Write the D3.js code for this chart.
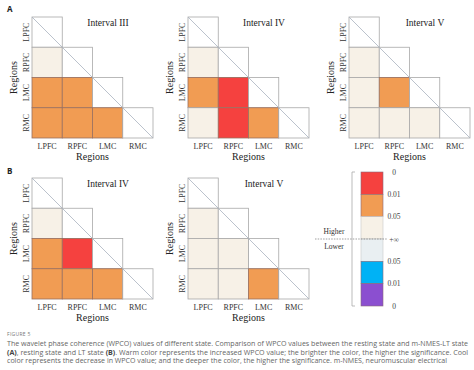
<!DOCTYPE html>
<html lang="en">
<head>
<meta charset="utf-8">
<script src="https://d3js.org/d3.v7.min.js"></script>
<style>
  body { margin: 0; background: #fff; }
</style>
</head>
<body>
<script>
    var w = 474;
    var h = 370;

    var regions = ['LPFC', 'RPFC', 'LMC', 'RMC'];

    // significance level of each cell, lower triangle row by row
    // 3 = p<0.01 higher, 2 = p<0.05 higher, 1 = higher n.s., 0 = diagonal
    var intervalIII_A = [[0], [1, 0], [2, 2, 0], [2, 2, 2, 0]];
    var intervalIV_A  = [[0], [1, 0], [2, 3, 0], [1, 3, 2, 0]];
    var intervalV_A   = [[0], [1, 0], [1, 2, 0], [1, 1, 1, 0]];
    var intervalIV_B  = [[0], [1, 0], [2, 3, 0], [2, 2, 2, 0]];
    var intervalV_B   = [[0], [1, 0], [1, 1, 0], [1, 1, 2, 0]];

    var legendLevels = [3, 2, 1, -1, -2, -3];
    var legendTicks = ['0', '0.01', '0.05', '+\u221e', '0.05', '0.01', '0'];

    var color = d3.scaleOrdinal()
        .domain([3, 2, 1, 0, -1, -2, -3])
        .range(['#f5413f', '#f19c53', '#f7f1e7', '#ffffff', '#e9eff2', '#00b2f5', '#8b4fd0']);

    var serif = '"Liberation Serif", "DejaVu Serif", serif';

    var svg = d3.select('body').append('svg')
        .attr('width', w)
        .attr('height', h);

    function panel(x0, y0, title, matrix) {
        var size = 121;
        var x = d3.scaleBand().domain(regions).range([x0, x0 + size]);
        var y = d3.scaleBand().domain(regions).range([y0, y0 + size]);
        var g = svg.append('g');

        var cells = [];
        matrix.forEach(function(row, r) {
            row.forEach(function(v, c) {
                cells.push({row: regions[r], col: regions[c], v: v});
            });
        });

        g.selectAll('rect')
            .data(cells)
            .enter()
            .append('rect')
            .attr('x', function(d) { return x(d.col); })
            .attr('y', function(d) { return y(d.row); })
            .attr('width', x.bandwidth())
            .attr('height', y.bandwidth())
            .attr('fill', function(d) { return color(d.v); })
            .attr('stroke', function(d) { return d.v > 0 && d.v > 1 ? '#9a7060' : '#a8a8a8'; })
            .attr('stroke-width', 0.8);

        // diagonal line through the grid
        g.append('line')
            .attr('x1', x0).attr('y1', y0)
            .attr('x2', x0 + size).attr('y2', y0 + size)
            .attr('stroke', '#a9b3bf')
            .attr('stroke-width', 0.8);

        g.append('text')
            .attr('x', x0 + 76).attr('y', y0 + 9)
            .attr('text-anchor', 'middle')
            .attr('font-family', serif)
            .attr('font-size', '9.5px')
            .attr('fill', '#222')
            .text(title);

        // x ticks
        g.selectAll('.xt')
            .data(regions)
            .enter()
            .append('text')
            .attr('x', function(d) { return x(d) + x.bandwidth() / 2; })
            .attr('y', y0 + size + 10.5)
            .attr('text-anchor', 'middle')
            .attr('font-family', serif)
            .attr('font-size', '8px')
            .attr('fill', '#333')
            .text(function(d) { return d; });

        // y ticks
        g.selectAll('.yt')
            .data(regions)
            .enter()
            .append('text')
            .attr('transform', function(d) {
                return 'translate(' + (x0 - 3) + ',' + (y(d) + y.bandwidth() / 2) + ') rotate(-90)';
            })
            .attr('text-anchor', 'middle')
            .attr('font-family', serif)
            .attr('font-size', '8px')
            .attr('fill', '#333')
            .text(function(d) { return d; });

        g.append('text')
            .attr('x', x0 + size / 2).attr('y', y0 + size + 21.5)
            .attr('text-anchor', 'middle')
            .attr('font-family', serif)
            .attr('font-size', '10px')
            .attr('fill', '#222')
            .text('Regions');

        g.append('text')
            .attr('transform', 'translate(' + (x0 - 15) + ',' + (y0 + size / 2) + ') rotate(-90)')
            .attr('text-anchor', 'middle')
            .attr('font-family', serif)
            .attr('font-size', '10px')
            .attr('fill', '#222')
            .text('Regions');
    }

    panel(32, 17, 'Interval III', intervalIII_A);
    panel(188, 17, 'Interval IV', intervalIV_A);
    panel(349, 17, 'Interval V', intervalV_A);
    panel(32, 178, 'Interval IV', intervalIV_B);
    panel(188, 178, 'Interval V', intervalV_B);

    // panel letters
    svg.selectAll('.letter')
        .data([['A', 7, 12], ['B', 7, 174]])
        .enter()
        .append('text')
        .attr('x', function(d) { return d[1]; })
        .attr('y', function(d) { return d[2]; })
        .attr('font-family', 'Open Sans, sans-serif')
        .attr('font-weight', 'bold')
        .attr('font-size', '8px')
        .attr('fill', '#222')
        .text(function(d) { return d[0]; });

    // colour bar
    var ly = d3.scaleBand().domain(legendLevels).range([172, 306]);
    var lt = d3.scalePoint().domain(d3.range(legendTicks.length)).range([172, 306]);

    svg.selectAll('.leg')
        .data(legendLevels)
        .enter()
        .append('rect')
        .attr('x', 361)
        .attr('y', function(d) { return ly(d); })
        .attr('width', 22)
        .attr('height', ly.bandwidth())
        .attr('fill', function(d) { return color(d); })
        .attr('stroke', function(d) { return Math.abs(d) > 1 ? '#8a6a7a' : '#c8c8c8'; })
        .attr('stroke-width', 0.6);

    svg.selectAll('.lt')
        .data(legendTicks)
        .enter()
        .append('text')
        .attr('x', 394)
        .attr('y', function(d, i) { return lt(i); })
        .attr('dy', '0.35em')
        .attr('text-anchor', 'middle')
        .attr('font-family', serif)
        .attr('font-size', '7.5px')
        .attr('fill', '#444')
        .text(function(d) { return d; });

    svg.append('path')
        .attr('d', 'M355,172 H352 V306 H355')
        .attr('fill', 'none')
        .attr('stroke', '#aaa')
        .attr('stroke-width', 0.8);

    svg.append('line')
        .attr('x1', 315).attr('x2', 387)
        .attr('y1', lt(3)).attr('y2', lt(3))
        .attr('stroke', '#777')
        .attr('stroke-width', 0.7)
        .attr('stroke-dasharray', '1.5,1.2');

    svg.selectAll('.hl')
        .data([['Higher', lt(3) - 5], ['Lower', lt(3) + 9.5]])
        .enter()
        .append('text')
        .attr('x', 334)
        .attr('y', function(d) { return d[1]; })
        .attr('text-anchor', 'middle')
        .attr('font-family', serif)
        .attr('font-size', '7.5px')
        .attr('fill', '#333')
        .text(function(d) { return d[0]; });

    // caption
    svg.append('text')
        .attr('x', 7).attr('y', 336)
        .attr('font-family', 'Open Sans, sans-serif')
        .attr('font-size', '5px')
        .attr('letter-spacing', '0.3px')
        .attr('fill', '#777')
        .text('FIGURE 5');

    var caption = [
        [['The wavelet phase coherence (WPCO) values of different state. Comparison of WPCO values between the resting state and m-NMES-LT state', false]],
        [['(A)', true], [', resting state and LT state ', false], ['(B)', true],
         ['. Warm color represents the increased WPCO value; the brighter the color, the higher the significance. Cool', false]],
        [['color represents the decrease in WPCO value; and the deeper the color, the higher the significance. m-NMES, neuromuscular electrical', false]]
    ];
    var captionLengths = [461, 461, 440];

    caption.forEach(function(line, i) {
        var t = svg.append('text')
            .attr('x', 7)
            .attr('y', 346 + i * 8.5)
            .attr('font-family', 'Open Sans, sans-serif')
            .attr('font-size', '6.3px')
            .attr('fill', '#666')
            .attr('textLength', captionLengths[i])
            .attr('lengthAdjust', 'spacingAndGlyphs');
        line.forEach(function(p) {
            t.append('tspan')
                .attr('font-weight', p[1] ? 'bold' : 'normal')
                .attr('fill', p[1] ? '#444' : '#666')
                .text(p[0]);
        });
    });
</script>
</body>
</html>
